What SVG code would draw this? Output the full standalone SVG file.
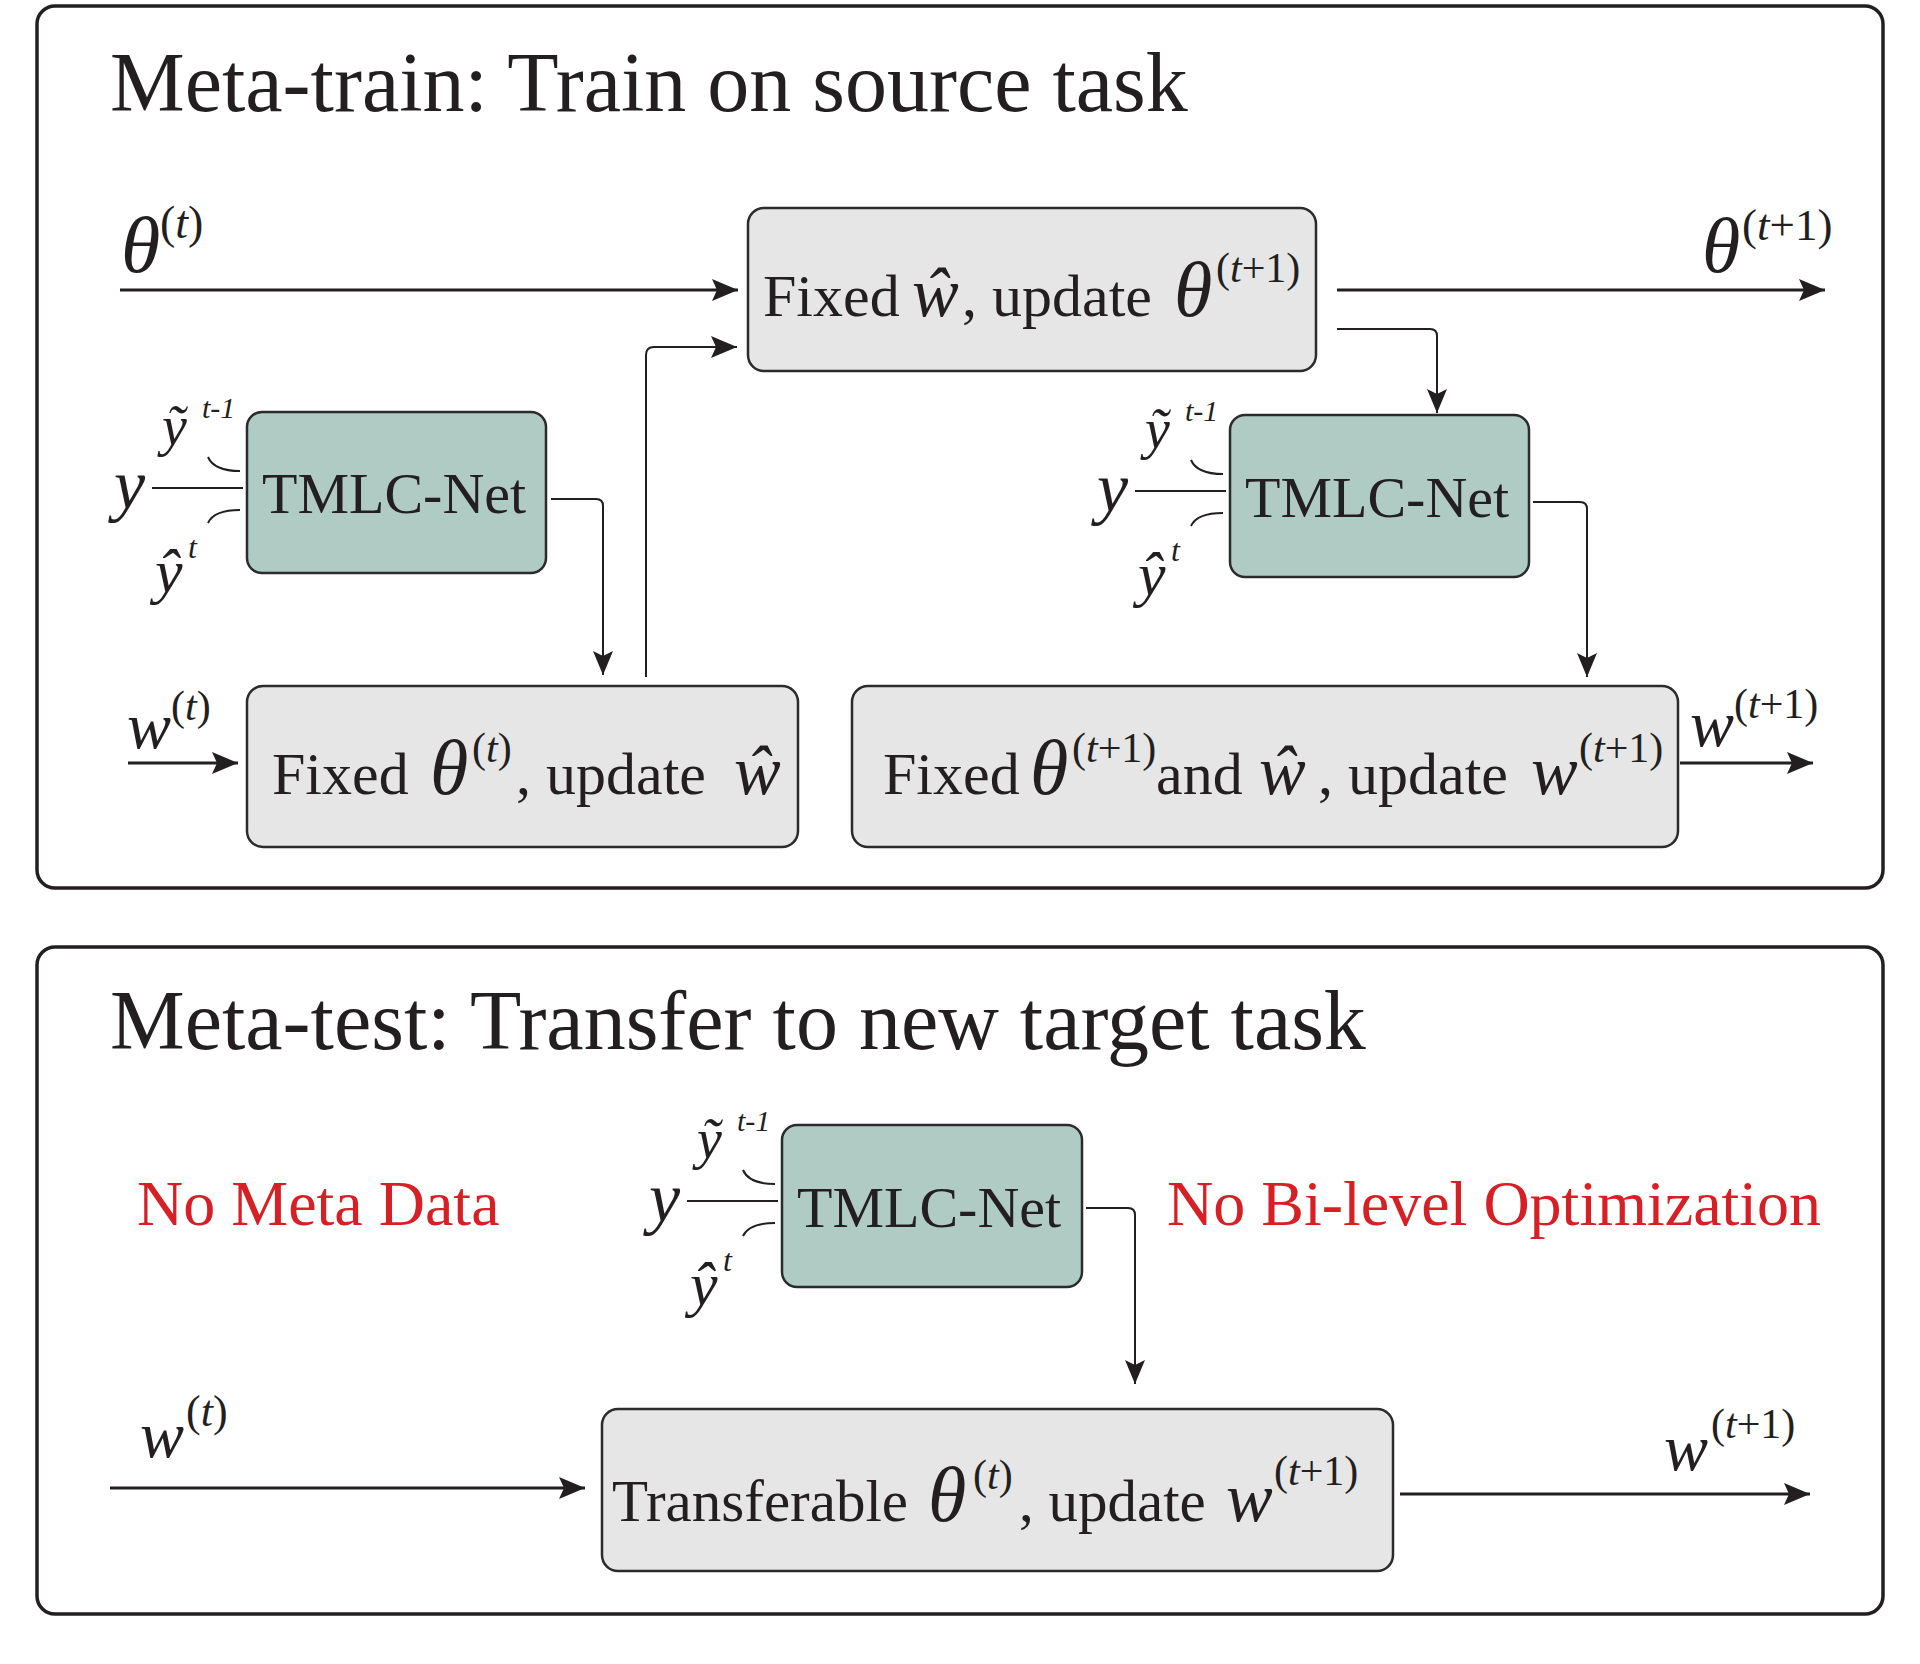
<svg xmlns="http://www.w3.org/2000/svg" width="1920" height="1664" viewBox="0 0 1920 1664">
<defs>
<style>
text{font-family:'Liberation Serif','Times New Roman',serif;fill:#231f20}
.it{font-style:italic}
.panel{fill:#ffffff;stroke:#231f20;stroke-width:3.5}
.gbox{fill:#e6e6e6;stroke:#2b2b2b;stroke-width:2.5}
.tbox{fill:#afcbc4;stroke:#2b2b2b;stroke-width:2.5}
.thick{fill:none;stroke:#231f20;stroke-width:3}
.thin{fill:none;stroke:#231f20;stroke-width:2}
.red{fill:#d71f26}
</style>
<marker id="ah" markerUnits="userSpaceOnUse" markerWidth="27" markerHeight="22" refX="26" refY="11" orient="auto">
<path d="M0,0 L26,11 L0,22 L5,11 Z" fill="#231f20"/>
</marker>
<marker id="ahs" markerUnits="userSpaceOnUse" markerWidth="25" markerHeight="20" refX="24" refY="10" orient="auto">
<path d="M0,0 L24,10 L0,20 L5,10 Z" fill="#231f20"/>
</marker>
</defs>
<rect width="1920" height="1664" fill="#ffffff"/>

<g id="panel-train">
<rect class="panel" x="37" y="6" width="1846" height="882" rx="18"/>
<text x="110" y="111" font-size="84">Meta-train: Train on source task</text>
</g>
<g id="panel-test">
<rect class="panel" x="37" y="947" width="1846" height="667" rx="18"/>
<text x="110" y="1049" font-size="84">Meta-test: Transfer to new target task</text>
</g>

<g id="connectors">
<path class="thick" d="M120,290 H738" marker-end="url(#ah)"/>
<path class="thick" d="M1337,290 H1825" marker-end="url(#ah)"/>
<path class="thin" d="M646,677 V355 Q646,347 654,347 H737" marker-end="url(#ah)"/>
<path class="thin" d="M551,499 H596 Q603,499 603,506 V675" marker-end="url(#ahs)"/>
<path class="thin" d="M1337,329 H1430 Q1437,329 1437,336 V413" marker-end="url(#ahs)"/>
<path class="thin" d="M1533,502 H1580 Q1587,502 1587,509 V677" marker-end="url(#ahs)"/>
<path class="thick" d="M128,763 H238" marker-end="url(#ah)"/>
<path class="thick" d="M1680,763 H1813" marker-end="url(#ah)"/>
<path class="thin" d="M1086,1208 H1128 Q1135,1208 1135,1215 V1384" marker-end="url(#ahs)"/>
<path class="thick" d="M110,1488 H585" marker-end="url(#ah)"/>
<path class="thick" d="M1400,1494 H1810" marker-end="url(#ah)"/>
<g transform="translate(247,412)">
<path class="thin" d="M-95,76 H-4"/>
<path class="thin" d="M-39,45 Q-33,59 -7,59"/>
<path class="thin" d="M-7,98 Q-33,98 -39,111"/>
</g>
<g transform="translate(1230,415)">
<path class="thin" d="M-95,76 H-4"/>
<path class="thin" d="M-39,45 Q-33,59 -7,59"/>
<path class="thin" d="M-7,98 Q-33,98 -39,111"/>
</g>
<g transform="translate(782,1125)">
<path class="thin" d="M-95,76 H-4"/>
<path class="thin" d="M-39,45 Q-33,59 -7,59"/>
<path class="thin" d="M-7,98 Q-33,98 -39,111"/>
</g>
</g>

<g id="node-update-theta">
<rect class="gbox" x="748" y="208" width="568" height="163" rx="16"/>
<text y="316" font-size="60"><tspan x="763">Fixed</tspan><tspan x="912" class="it" font-size="70">ŵ</tspan><tspan x="962">, update</tspan><tspan x="1174" class="it" font-size="78">θ</tspan><tspan x="1216" y="282" font-size="42">(<tspan class="it">t</tspan>+1)</tspan></text>
</g>

<g id="node-tmlc-1">
<rect class="tbox" x="247" y="412" width="299" height="161" rx="15"/>
<text x="262" y="513" font-size="58">TMLC-Net</text>
</g>
<g id="inputs-tmlc-1" transform="translate(247,412)">
<text x="-133" y="96" font-size="70" class="it">y</text>
<text x="-85" y="33" font-size="56" class="it">ỹ</text>
<text x="-45" y="6" font-size="30" class="it">t-1</text>
<text x="-92" y="180" font-size="62" class="it">ŷ</text>
<text x="-59" y="146" font-size="32" class="it">t</text>
</g>

<g id="node-tmlc-2">
<rect class="tbox" x="1230" y="415" width="299" height="162" rx="15"/>
<text x="1245" y="517" font-size="58">TMLC-Net</text>
</g>
<g id="inputs-tmlc-2" transform="translate(1230,415)">
<text x="-133" y="96" font-size="70" class="it">y</text>
<text x="-85" y="33" font-size="56" class="it">ỹ</text>
<text x="-45" y="6" font-size="30" class="it">t-1</text>
<text x="-92" y="180" font-size="62" class="it">ŷ</text>
<text x="-59" y="146" font-size="32" class="it">t</text>
</g>

<g id="node-update-what">
<rect class="gbox" x="247" y="686" width="551" height="161" rx="16"/>
<text y="794" font-size="60"><tspan x="272">Fixed</tspan><tspan x="430" class="it" font-size="78">θ</tspan><tspan x="472" y="762" font-size="42">(<tspan class="it">t</tspan>)</tspan><tspan x="516" y="794">, update</tspan><tspan x="734" class="it" font-size="70">ŵ</tspan></text>
</g>

<g id="node-update-w">
<rect class="gbox" x="852" y="686" width="826" height="161" rx="16"/>
<text y="794" font-size="60"><tspan x="883">Fixed</tspan><tspan x="1030" class="it" font-size="78">θ</tspan><tspan x="1072" y="762" font-size="42">(<tspan class="it">t</tspan>+1)</tspan><tspan x="1156" y="794">and</tspan><tspan x="1259" class="it" font-size="70">ŵ</tspan><tspan x="1318">, update</tspan><tspan x="1531" class="it" font-size="70">w</tspan><tspan x="1579" y="762" font-size="42">(<tspan class="it">t</tspan>+1)</tspan></text>
</g>

<g id="label-theta-t">
<text y="272" font-size="80"><tspan x="121" class="it">θ</tspan><tspan x="160" y="238" font-size="46">(<tspan class="it">t</tspan>)</tspan></text>
</g>
<g id="label-theta-t1">
<text y="272" font-size="78"><tspan x="1702" class="it">θ</tspan><tspan x="1742" y="240" font-size="45">(<tspan class="it">t</tspan>+1)</tspan></text>
</g>
<g id="label-w-t-1">
<text y="748" font-size="66"><tspan x="127" class="it">w</tspan><tspan x="171" y="720" font-size="42">(<tspan class="it">t</tspan>)</tspan></text>
</g>
<g id="label-w-t1-1">
<text y="746" font-size="66"><tspan x="1690" class="it">w</tspan><tspan x="1734" y="718" font-size="42">(<tspan class="it">t</tspan>+1)</tspan></text>
</g>

<g id="label-no-meta">
<text x="137" y="1225" font-size="64" class="red">No Meta Data</text>
</g>
<g id="label-no-bilevel">
<text x="1167" y="1225" font-size="64" class="red">No Bi-level Optimization</text>
</g>

<g id="node-tmlc-3">
<rect class="tbox" x="782" y="1125" width="300" height="162" rx="15"/>
<text x="797" y="1227" font-size="58">TMLC-Net</text>
</g>
<g id="inputs-tmlc-3" transform="translate(782,1125)">
<text x="-133" y="96" font-size="70" class="it">y</text>
<text x="-85" y="33" font-size="56" class="it">ỹ</text>
<text x="-45" y="6" font-size="30" class="it">t-1</text>
<text x="-92" y="180" font-size="62" class="it">ŷ</text>
<text x="-59" y="146" font-size="32" class="it">t</text>
</g>

<g id="node-transfer">
<rect class="gbox" x="602" y="1409" width="791" height="162" rx="16"/>
<text y="1521" font-size="59"><tspan x="612">Transferable</tspan><tspan x="928" class="it" font-size="78">θ</tspan><tspan x="973" y="1489" font-size="42">(<tspan class="it">t</tspan>)</tspan><tspan x="1019" y="1521">, update</tspan><tspan x="1226" class="it" font-size="70">w</tspan><tspan x="1274" y="1485" font-size="42">(<tspan class="it">t</tspan>+1)</tspan></text>
</g>

<g id="label-w-t-2">
<text y="1457" font-size="66"><tspan x="140" class="it">w</tspan><tspan x="186" y="1426" font-size="44">(<tspan class="it">t</tspan>)</tspan></text>
</g>
<g id="label-w-t1-2">
<text y="1470" font-size="66"><tspan x="1664" class="it">w</tspan><tspan x="1711" y="1438" font-size="42">(<tspan class="it">t</tspan>+1)</tspan></text>
</g>
</svg>
